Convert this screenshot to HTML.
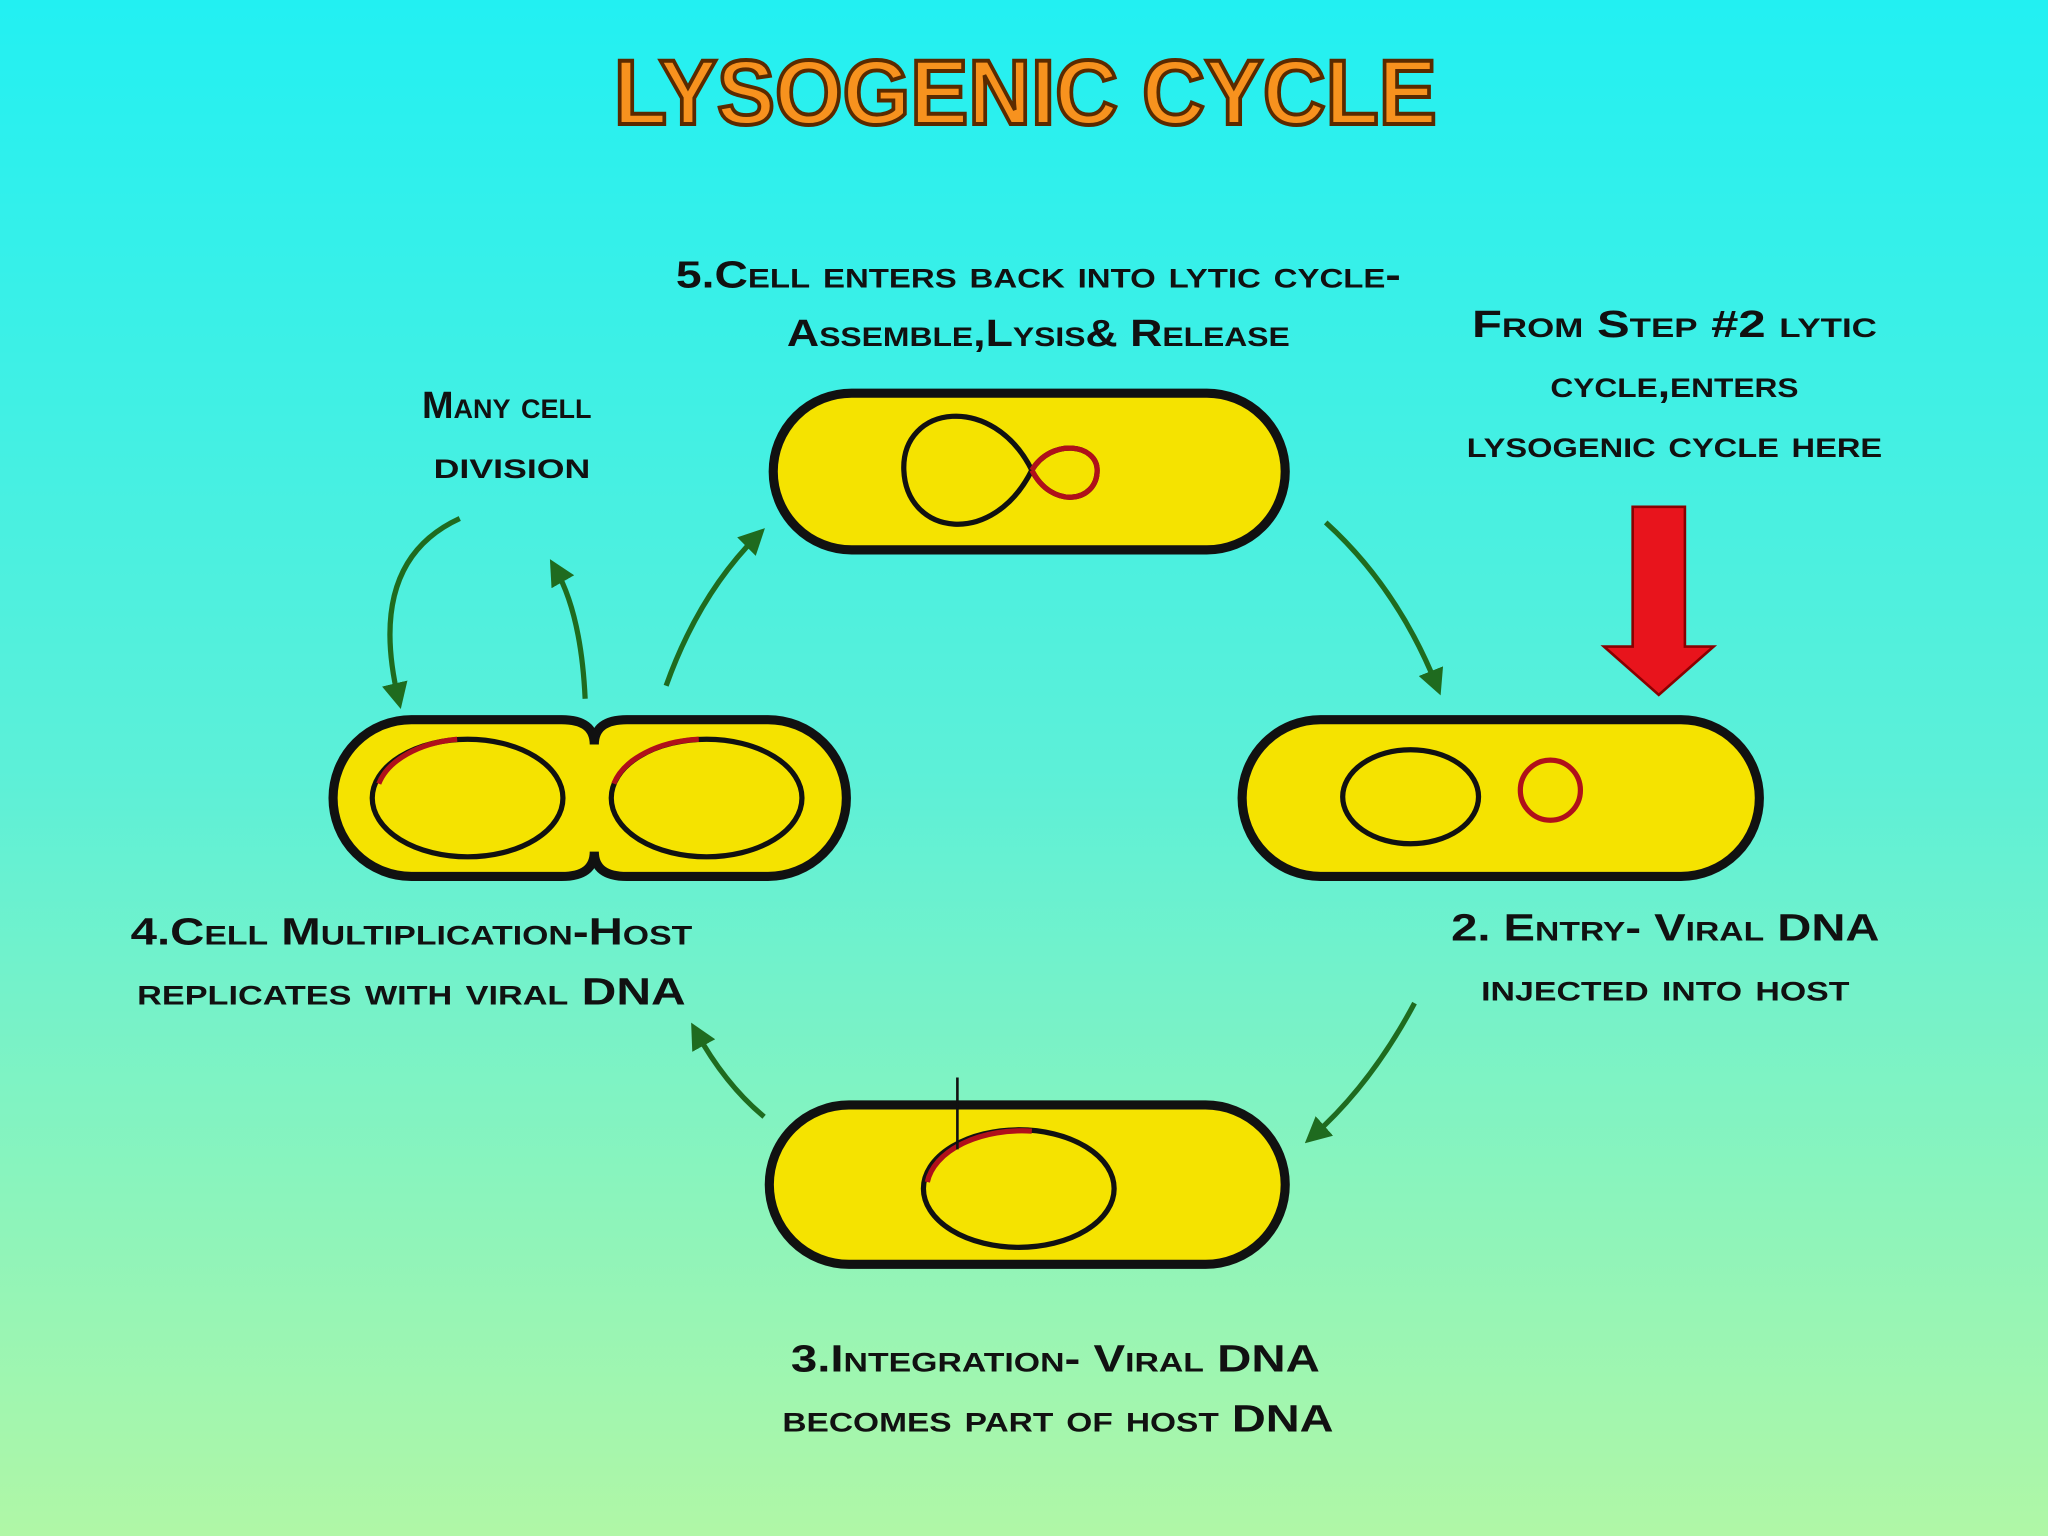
<!DOCTYPE html>
<html><head><meta charset="utf-8"><style>
html,body{margin:0;padding:0;width:2048px;height:1536px;overflow:hidden}
svg{display:block}
text{font-family:"Liberation Sans",sans-serif;font-weight:bold;font-variant:small-caps;fill:#111}
</style></head><body>
<svg width="2048" height="1536" viewBox="0 0 1568 1176" xmlns="http://www.w3.org/2000/svg">
<defs>
<linearGradient id="bg" x1="0" y1="0" x2="0" y2="1">
<stop offset="0" stop-color="#22f0f2"/>
<stop offset="0.5" stop-color="#5cf0d8"/>
<stop offset="1" stop-color="#b0f7a6"/>
</linearGradient>
<marker id="ah" markerWidth="5" markerHeight="5" refX="3" refY="2.5" orient="auto" markerUnits="strokeWidth">
<path d="M0,0 L5,2.5 L0,5 Z" fill="#1f6b1f"/>
</marker>
</defs>
<rect width="1568" height="1176" fill="url(#bg)"/>
<text x="785" y="95" text-anchor="middle" font-size="70" textLength="630" lengthAdjust="spacingAndGlyphs" style="font-variant:normal;fill:#f7921e;stroke:#5a2a00;stroke-width:3">LYSOGENIC CYCLE</text>

<g fill="#f5e300" stroke="#111" stroke-width="7">
<rect x="592" y="301" width="392" height="120" rx="60"/>
<rect x="951" y="551" width="396" height="120" rx="60"/>
<rect x="589" y="846" width="395" height="122" rx="61"/>
<path d="M315,551 H430 Q455,551 455,570 Q455,551 480,551 H588 A60,60 0 0 1 588,671 H480 Q455,671 455,652 Q455,671 430,671 H315 A60,60 0 0 1 315,551 Z"/>
</g>
<g fill="none" stroke-width="4">
<path d="M790,360 C760,300 690,310 692,360 C694,410 760,420 790,360 C805,335 840,340 840,360 C840,385 805,390 790,360" stroke="#111"/>
<path d="M790,360 C805,335 840,340 840,360 C840,385 805,390 790,360" stroke="#b0101a"/>
<ellipse cx="1080" cy="610" rx="52" ry="36" stroke="#111"/>
<circle cx="1187" cy="605" r="23" stroke="#b0101a"/>
<ellipse cx="780" cy="910" rx="73" ry="45" stroke="#111"/>
<path d="M710,905 A73,45 0 0 1 790,866" stroke="#b0101a"/>
<line x1="733" y1="825" x2="733" y2="880" stroke="#111" stroke-width="2"/>
<ellipse cx="358" cy="611" rx="73" ry="45" stroke="#111"/>
<ellipse cx="541" cy="611" rx="73" ry="45" stroke="#111"/>
<path d="M290,600 A73,45 0 0 1 350,566" stroke="#b0101a"/>
<path d="M470,600 A73,45 0 0 1 535,566" stroke="#b0101a"/>
</g>
<g fill="none" stroke="#1f6b1f" stroke-width="4" marker-end="url(#ah)">
<path d="M1015,400 Q1070,450 1100,525"/>
<path d="M1083,768 Q1050,830 1005,870"/>
<path d="M585,855 Q555,830 533,790"/>
<path d="M510,525 Q535,455 580,410"/>
<path d="M448,535 Q445,470 425,435"/>
<path d="M352,397 Q280,430 305,535"/>
</g>
<path d="M1250,388 H1290 V495 H1312 L1270,532 L1228,495 H1250 Z" fill="#e8141c" stroke="#8a0000" stroke-width="2"/>

<g font-size="29">
<text x="795" y="220" text-anchor="middle" textLength="555" lengthAdjust="spacingAndGlyphs">5.Cell enters back into lytic cycle-</text>
<text x="795" y="265" text-anchor="middle" textLength="385" lengthAdjust="spacingAndGlyphs">Assemble,Lysis&amp; Release</text>
<text x="388" y="320" text-anchor="middle">Many cell</text>
<text x="392" y="366" text-anchor="middle" textLength="120" lengthAdjust="spacingAndGlyphs">division</text>
<text x="1282" y="258" text-anchor="middle" textLength="310" lengthAdjust="spacingAndGlyphs">From Step #2 lytic</text>
<text x="1282" y="304" text-anchor="middle" textLength="190" lengthAdjust="spacingAndGlyphs">cycle,enters</text>
<text x="1282" y="350" text-anchor="middle" textLength="318" lengthAdjust="spacingAndGlyphs">lysogenic cycle here</text>
<text x="315" y="723" text-anchor="middle" textLength="430" lengthAdjust="spacingAndGlyphs">4.Cell Multiplication-Host</text>
<text x="315" y="769" text-anchor="middle" textLength="420" lengthAdjust="spacingAndGlyphs">replicates with viral DNA</text>
<text x="1275" y="720" text-anchor="middle" textLength="328" lengthAdjust="spacingAndGlyphs">2. Entry- Viral DNA</text>
<text x="1275" y="766" text-anchor="middle" textLength="282" lengthAdjust="spacingAndGlyphs">injected into host</text>
<text x="808" y="1050" text-anchor="middle" textLength="405" lengthAdjust="spacingAndGlyphs">3.Integration- Viral DNA</text>
<text x="810" y="1096" text-anchor="middle" textLength="422" lengthAdjust="spacingAndGlyphs">becomes part of host DNA</text>
</g>
</svg>
</body></html>
